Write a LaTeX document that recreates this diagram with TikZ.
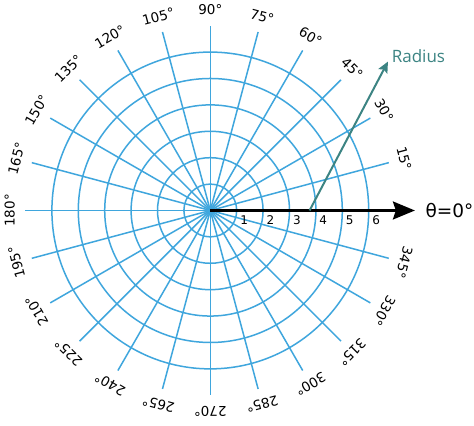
\documentclass[tikz,border=0pt]{standalone}
\usepackage{fontspec}
\setmainfont{DejaVu Sans}
\newfontfamily\radiusfont{Open Sans}
\usetikzlibrary{arrows.meta}
\definecolor{gridblue}{HTML}{3FA6DD}
\definecolor{radteal}{HTML}{3C8483}

\begin{document}
\begin{tikzpicture}[x=26.4pt, y=26.4pt,
    grid/.style = {draw=gridblue, line width=1.5pt},
    deg/.style = {font=\fontsize{13.5}{15}\selectfont, inner sep=0pt},
    num/.style = {font=\fontsize{12}{14}\selectfont, inner sep=0pt},
    axis/.style = {line width=2.4pt, -{Stealth[length=22pt, width=18pt, inset=3pt]}},
    radarrow/.style = {draw=radteal, line width=2pt, -{Stealth[length=11pt, width=10pt, inset=2pt]}}]
    \useasboundingbox (-7.966,-8.163) rectangle (9.989,7.973);
    \fill[white] (-7.966,-8.163) rectangle (9.989,7.973);
    \coordinate (O) at (0,0);
    % circles and spokes
    \foreach \r in {1,...,6}
        \draw[grid] (O) circle (\r);
    \foreach \a in {0,15,...,345}
        \draw[grid] (O) -- (\a:7);
    % angle labels
    \foreach \a/\t in {15/15, 30/30, 45/45, 60/60, 75/75, 90/90, 105/105, 120/120,
                       135/135, 150/150, 165/165, 180/180, 195/195, 210/210, 225/225,
                       240/240, 255/265, 270/270, 285/285, 300/300, 315/315, 330/330, 345/345}
        \node[deg, rotate=\a-90] (d\a) at (\a:7.6) {\t°};
    % radius numbers
    \foreach \r in {1,...,6}
        \node[num] (n\r) at (\r+0.28,-0.36) {\r};
    % polar axis
    \coordinate (tip) at (7.75,0);
    \draw[axis] (O) -- (tip);
    \node[anchor=west, inner sep=0pt, font=\fontsize{18.5}{21}\selectfont] (zero) at (8.15,0) {θ=0°};
    % radius arrow
    \coordinate (foot) at (3.76,0);
    \coordinate (head) at (6.73,5.64);
    \draw[radarrow] (foot) -- (head);
    \node[anchor=west, inner sep=0pt, text=radteal, font=\radiusfont\fontsize{17}{20}\selectfont] (rad) at (6.87,5.85) {Radius};
\end{tikzpicture}
\end{document}
